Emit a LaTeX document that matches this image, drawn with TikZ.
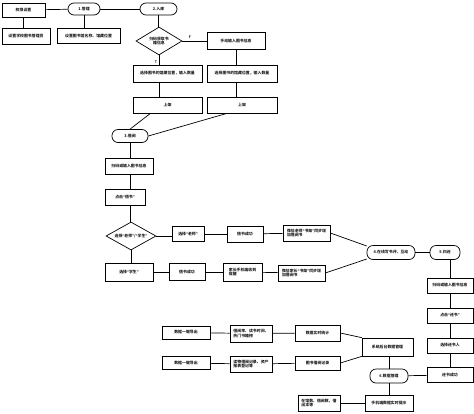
\documentclass[tikz,border=0pt]{standalone}
\usepackage{fontspec}
\newfontfamily\cjk{Noto Sans CJK SC Bold}
\newfontfamily\latq{Liberation Sans}
\newcommand\zq[1]{{\latq\bfseries “}#1{\latq\bfseries ”}}
\usetikzlibrary{shapes.geometric}
\begin{document}
\begin{tikzpicture}[x=1pt,y=-1pt,
  every node/.style={font=\cjk\fontsize{3.9}{4.8}\selectfont, inner sep=0.8pt},
  box/.style={draw, line width=0.7pt, align=center},
  lbox/.style={draw, line width=0.7pt, align=left},
  term/.style={draw, line width=0.7pt, rounded corners=6pt, align=center},
  dia/.style={draw, line width=0.7pt, diamond, aspect=1.7, align=center, inner sep=0pt},
  conn/.style={line width=0.7pt},
  lab/.style={font=\cjk\fontsize{3.5}{4}\selectfont, inner sep=0pt}]
\useasboundingbox (0,0) rectangle (474,413);
% top row
\node[box, minimum width=43, minimum height=14] (qx) at (23.5,10) {权限设置};
\node[box, minimum width=48, minimum height=16] (szxx) at (26,36) {设置学校图书管理员};
\node[term, minimum width=32, minimum height=12] (gl) at (84,9) {1.管理};
\node[box, minimum width=63, minimum height=15] (szts) at (88.5,35.5) {设置图书馆名称、馆藏位置};
\node[term, minimum width=37, minimum height=12] (rk) at (158.5,9) {2.入库};
\node[dia, minimum width=46, minimum height=28] (smhq) at (159,41) {扫码获取书\\籍信息};
\node[box, minimum width=58, minimum height=17] (sd) at (236,41) {手动输入图书信息};
\node[box, minimum width=69, minimum height=17] (xz1) at (167.5,73.5) {选择图书的馆藏位置，输入数量};
\node[box, minimum width=70, minimum height=17] (xz2) at (242,73.5) {选择图书的馆藏位置，输入数量};
\node[box, minimum width=69, minimum height=16] (sj1) at (167.5,105) {上架};
\node[box, minimum width=70, minimum height=16] (sj2) at (242,105) {上架};
\node[lab] (f) at (190,37) {F};
\node[lab] (t) at (156,62) {T};
% borrow
\node[term, minimum width=36, minimum height=13] (jy) at (130,136) {3.借阅};
\node[box, minimum width=48, minimum height=16] (sm1) at (129,166) {扫码或输入图书信息};
\node[box, minimum width=40, minimum height=16] (dj) at (125,197) {点击\zq{借书}};
\node[dia, minimum width=50, minimum height=28] (xzr) at (131,236) {选择\zq{老师}/\zq{学生}};
\node[box, minimum width=32, minimum height=15] (ls) at (188,234) {选择\zq{老师}};
\node[box, minimum width=36, minimum height=16] (cg1) at (245,234) {借书成功};
\node[lbox, minimum width=47, minimum height=16] (wx1) at (306.5,233) {微信老师\zq{书架}同步增\\加借阅书};
\node[box, minimum width=48, minimum height=18] (xs) at (129,272) {选择\zq{学生}};
\node[box, minimum width=36, minimum height=17] (cg2) at (187,272) {借书成功};
\node[lbox, minimum width=39, minimum height=18] (jz) at (242.5,272) {家长手机端收到\\提醒};
\node[lbox, minimum width=47, minimum height=16] (wx2) at (301.5,273) {微信家长\zq{书架}同步增\\加借阅书};
\node[term, minimum width=48, minimum height=14] (zx) at (391,252.5) {4.在线写书评、互动};
\node[term, minimum width=30, minimum height=14] (gh) at (445,252.5) {5.归还};
% return
\node[box, minimum width=46, minimum height=15] (sm2) at (450,285.5) {扫码或输入图书信息};
\node[box, minimum width=46, minimum height=15] (hs) at (450,315.5) {点击\zq{还书}};
\node[box, minimum width=46, minimum height=15] (xzh) at (450,345.5) {选择还书人};
\node[box, minimum width=46, minimum height=15] (hc) at (450,375) {还书成功};
% data
\node[term, minimum width=38, minimum height=14] (sjgl) at (389,376) {6.数据管理};
\node[box, minimum width=51, minimum height=18] (xt) at (387.5,347) {系统后台数据管理};
\node[box, minimum width=45, minimum height=16] (ss) at (317.5,333) {数据实时统计};
\node[box, minimum width=45, minimum height=14] (tj) at (317.5,363) {图书借阅记录};
\node[box, minimum width=48, minimum height=13] (dc1) at (186,332.5) {数据一键导出};
\node[lbox, minimum width=42, minimum height=17] (jyl) at (251,333.5) {借阅率、读书时间、\\热门书籍榜};
\node[box, minimum width=48, minimum height=13] (dc2) at (186,363) {数据一键导出};
\node[lbox, minimum width=42, minimum height=16] (dw) at (251,364) {读物借阅记录、资产\\报表登记等};
\node[box, minimum width=48, minimum height=16] (sjd) at (389,403) {手机端数据实时提示};
\node[lbox, minimum width=42, minimum height=16] (zg) at (319,403) {在馆数、借阅数、借\\出本等};
% connectors
\draw[conn] (qx) -- (gl);
\draw[conn] (gl) -- (rk);
\draw[conn] (qx) -- (qx |- szxx.north);
\draw[conn] (gl) -- (gl |- szts.north);
\draw[conn] (rk) -- (rk |- smhq.north);
\draw[conn] (smhq.east) -- (sd.west);
\draw[conn] (smhq.south) -- (smhq.south |- xz1.north);
\draw[conn] (sd.south) -- (sd.south |- xz2.north);
\draw[conn] (xz1.south -| smhq.south) -- (sj1.north -| smhq.south);
\draw[conn] (xz2.south -| sd.south) -- (sj2.north -| sd.south);
\draw[conn] ([xshift=-17pt]sj1.south) -- (jy.north);
\draw[conn] ([xshift=-15pt]sj2.south) -- (jy.east);
\draw[conn] (jy.south) -- (jy.south |- sm1.north);
\draw[conn] (sm1.south -| jy.south) -- (dj.north -| jy.south);
\draw[conn] (dj.south -| jy.south) -- (xzr.north -| jy.south);
\draw[conn] (xzr.east) -- (ls.west |- xzr.east);
\draw[conn] (ls) -- (cg1);
\draw[conn] (cg1) -- (wx1);
\draw[conn] (xzr.south) -- (xzr.south |- xs.north);
\draw[conn] (xs) -- (cg2);
\draw[conn] (cg2) -- (jz);
\draw[conn] (jz) -- (wx2);
\draw[conn] (wx1.east) -- (zx.165);
\draw[conn] (wx2.east) -- (zx.195);
\draw[conn] (zx) -- (gh);
\draw[conn] (gh.south -| sm2) -- (sm2);
\draw[conn] (sm2) -- (hs);
\draw[conn] (hs) -- (xzh);
\draw[conn] (xzh) -- (hc);
\draw[conn] (hc) -- (sjgl);
\draw[conn] (xt.south -| sjgl) -- (sjgl);
\draw[conn] (sjgl) -- (sjgl |- sjd.north);
\draw[conn] (sjd) -- (zg);
\draw[conn] (ss.east) -- (xt.160);
\draw[conn] (tj.east) -- (xt.200);
\draw[conn] (dc1) -- (jyl);
\draw[conn] (jyl) -- (ss);
\draw[conn] (dc2) -- (dw);
\draw[conn] (dw) -- (tj);
\end{tikzpicture}
\end{document}
